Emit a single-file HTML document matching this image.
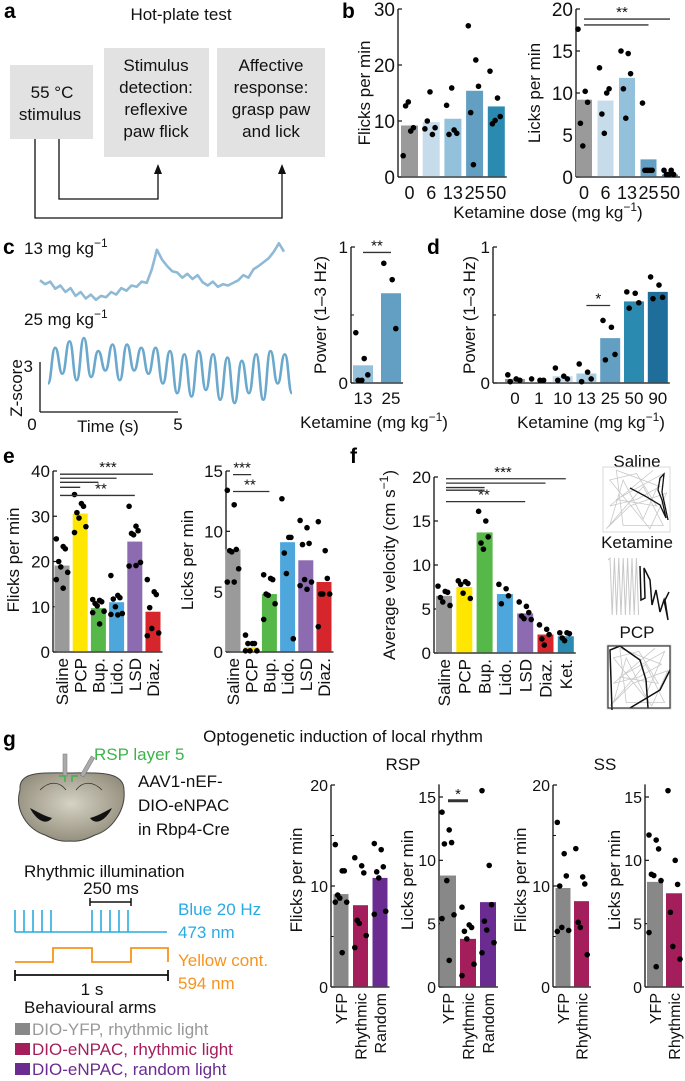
<!DOCTYPE html>
<html><head><meta charset="utf-8">
<style>
html,body{margin:0;padding:0;background:#fff;}
svg{display:block;font-family:"Liberation Sans",Arial,sans-serif;}
.t{font-size:17px;fill:#111;}
.pl{font-size:21px;font-weight:bold;fill:#000;}
</style></head>
<body>
<svg id="fig" width="685" height="1081" viewBox="0 0 685 1081" xmlns="http://www.w3.org/2000/svg">
<rect width="685" height="1081" fill="#fff"/>
<g>
<text class="pl" x="4" y="18">a</text>
<text class="t" x="181" y="20" text-anchor="middle" font-size="18">Hot-plate test</text>
<rect x="10" y="65" width="83" height="74" fill="#e2e2e2"/>
<text class="t" x="52" y="98" text-anchor="middle">55 °C<tspan x="50" dy="22">stimulus</tspan></text>
<rect x="104" y="48" width="105" height="109" fill="#e2e2e2"/>
<text class="t" x="156" y="71" text-anchor="middle">Stimulus<tspan x="156" dy="22">detection:</tspan><tspan x="156" dy="22">reflexive</tspan><tspan x="156" dy="22">paw flick</tspan></text>
<rect x="217" y="48" width="108" height="109" fill="#e2e2e2"/>
<text class="t" x="271" y="71" text-anchor="middle">Affective<tspan x="271" dy="22">response:</tspan><tspan x="271" dy="22">grasp paw</tspan><tspan x="271" dy="22">and lick</tspan></text>
<polyline points="59,139 59,199 158,199 158,172" fill="none" stroke="#111" stroke-width="1.3"/>
<polygon points="158,164 154,174 162,174" fill="#111"/>
<polyline points="35,139 35,218 282,218 282,172" fill="none" stroke="#111" stroke-width="1.3"/>
<polygon points="282,164 278,174 286,174" fill="#111"/>
</g>
<text class="pl" x="342" y="18">b</text>
<text class="t" x="548" y="218" text-anchor="middle" font-size="18">Ketamine dose (mg kg<tspan dy="-7" font-size="12">−1</tspan><tspan dy="7">)</tspan></text>
<text class="t" transform="translate(370,93) rotate(-90)" text-anchor="middle" font-size="19">Flicks per min</text>
<text class="t" transform="translate(540,93) rotate(-90)" text-anchor="middle" font-size="19">Licks per min</text>
<text class="pl" x="3" y="254">c</text>
<text class="t" x="24" y="254" font-size="18">13 mg kg<tspan dy="-7" font-size="12">−1</tspan></text>
<text class="t" x="24" y="325" font-size="18">25 mg kg<tspan dy="-7" font-size="12">−1</tspan></text>
<text class="t" x="33" y="372" text-anchor="end">3</text>
<text class="t" transform="translate(22,388) rotate(-90)" text-anchor="middle">Z-score</text>
<line x1="40" y1="362" x2="40" y2="412" stroke="#111" stroke-width="1.3"/>
<line x1="40" y1="412" x2="178" y2="412" stroke="#111" stroke-width="1.3"/>
<text class="t" x="32" y="430" text-anchor="middle">0</text>
<text class="t" x="178" y="430" text-anchor="middle">5</text>
<text class="t" x="108" y="432" text-anchor="middle">Time (s)</text>
<text class="t" x="374" y="428" text-anchor="middle">Ketamine (mg kg<tspan dy="-7" font-size="12">−1</tspan><tspan dy="7">)</tspan></text>
<text class="t" transform="translate(326,315) rotate(-90)" text-anchor="middle">Power (1–3 Hz)</text>
<text class="pl" x="427" y="254">d</text>
<text class="t" x="591" y="428" text-anchor="middle">Ketamine (mg kg<tspan dy="-7" font-size="12">−1</tspan><tspan dy="7">)</tspan></text>
<text class="t" transform="translate(475,315) rotate(-90)" text-anchor="middle">Power (1–3 Hz)</text>
<text class="pl" x="3" y="463">e</text>
<text class="t" transform="translate(19,560) rotate(-90)" text-anchor="middle" font-size="18">Flicks per min</text>
<text class="t" transform="translate(193,560) rotate(-90)" text-anchor="middle" font-size="18">Licks per min</text>
<text class="pl" x="350" y="463">f</text>
<text class="t" transform="translate(395,565) rotate(-90)" text-anchor="middle" font-size="18">Average velocity (cm s<tspan dy="-7" font-size="12">−1</tspan><tspan dy="7">)</tspan></text>
<text class="t" x="637" y="467" text-anchor="middle">Saline</text>
<text class="t" x="637" y="548" text-anchor="middle">Ketamine</text>
<text class="t" x="637" y="638" text-anchor="middle">PCP</text>
<g id="traj"></g>
<text class="pl" x="3" y="746">g</text>
<text class="t" x="343" y="742" text-anchor="middle">Optogenetic induction of local rhythm</text>
<text class="t" x="403" y="770" text-anchor="middle">RSP</text>
<text class="t" x="605" y="770" text-anchor="middle">SS</text>
<g>
<defs><radialGradient id="bg" cx="50%" cy="45%" r="60%"><stop offset="0" stop-color="#d6d2c4"/><stop offset="1" stop-color="#8f8a78"/></radialGradient></defs>
<path d="M20,790 C18,770 45,773 70,773 C95,773 124,770 124,790 C126,810 112,830 95,835 C85,840 78,842 70,841 C62,842 55,840 45,835 C28,830 14,810 20,790 Z" fill="url(#bg)" stroke="#444" stroke-width="1"/>
<path d="M30,808 C36,820 46,826 52,818 C44,816 38,812 30,808Z" fill="#111"/>
<path d="M112,808 C106,820 96,826 90,818 C98,816 104,812 112,808Z" fill="#111"/>
<path d="M40,790 C50,780 60,782 66,790 M102,790 C92,780 82,782 76,790" fill="none" stroke="#333" stroke-width="0.8"/>
<rect x="63" y="754" width="4" height="22" fill="#aaa" stroke="#777" stroke-width="0.5"/>
<rect x="80" y="754" width="4" height="22" fill="#aaa" stroke="#777" stroke-width="0.5" transform="rotate(30 82 776)"/>
<path d="M59,776 L65,776 L65,782 M78,776 L72,776 L72,782" fill="none" stroke="#3cb44b" stroke-width="1.5"/>
</g>
<text class="t" x="94" y="760" style="fill:#3cb44b">RSP layer 5</text>
<text class="t" x="138" y="787">AAV1-nEF-<tspan x="138" dy="24">DIO-eNPAC</tspan><tspan x="138" dy="24">in Rbp4-Cre</tspan></text>
<text class="t" x="24" y="877">Rhythmic illumination</text>
<text class="t" x="111" y="894" text-anchor="middle">250 ms</text>
<path d="M90,902 H131 M90,898 V906 M131,898 V906" stroke="#111" stroke-width="1.5" fill="none"/>
<path id="bluepulse" d="" stroke="#29abe2" stroke-width="1.6" fill="none"/>
<text class="t" x="178" y="915" style="fill:#29abe2">Blue 20 Hz<tspan x="178" dy="23">473 nm</tspan></text>
<path d="M15,962 H53 V948 H92 V962 H131 V948 H168 V962" stroke="#f7941d" stroke-width="1.8" fill="none"/>
<text class="t" x="178" y="966" style="fill:#f7941d">Yellow cont.<tspan x="178" dy="23">594 nm</tspan></text>
<path d="M15,975 H168 M15,970 V981 M168,970 V981" stroke="#111" stroke-width="1.8" fill="none"/>
<text class="t" x="92" y="995" text-anchor="middle">1 s</text>
<text class="t" x="24" y="1013">Behavioural arms</text>
<rect x="15" y="1023" width="15" height="12" fill="#888"/>
<text class="t" x="32" y="1035" style="fill:#999">DIO-YFP, rhythmic light</text>
<rect x="15" y="1043" width="15" height="12" fill="#a51e5c"/>
<text class="t" x="32" y="1055" style="fill:#a51e5c">DIO-eNPAC, rhythmic light</text>
<rect x="15" y="1063" width="15" height="12" fill="#6a2c91"/>
<text class="t" x="32" y="1075" style="fill:#6a2c91">DIO-eNPAC, random light</text>
<text class="t" transform="translate(302,880) rotate(-90)" text-anchor="middle">Flicks per min</text>
<text class="t" transform="translate(413,880) rotate(-90)" text-anchor="middle">Licks per min</text>
<text class="t" transform="translate(526,880) rotate(-90)" text-anchor="middle">Flicks per min</text>
<text class="t" transform="translate(620,880) rotate(-90)" text-anchor="middle">Licks per min</text>
<g id="charts"></g>
</svg>
<script>
const bDoses = ["0","6","13","25","50"];
const bFlickMeans = [9.2, 9.8, 10.4, 15.4, 12.6];
const bFlickDots = [[3.8,8.2,8.8,12.7,13.4],[8.6,7.6,8.8,10,15.2],[12.8,8.4,7.8,7.6,15.9],[27,20.9,16.2,11.5,2.2],[18.9,14.1,10.8,9.5,10.1]];
const bFlickTicks = [0,10,20,30];
const bLickMeans = [9.2, 9.1, 11.8, 2.1, 0.3];
const bLickDots = [[17.6,10.2,8.9,6.4,3.7],[13,10,10.5,7.5,5.2],[15,14.7,12.3,10.5,7],[8.8,0.8,0.8,0.8,0.8],[0.8,0.8,0.3,0.3,0.3]];
const bLickTicks = [0,5,10,15,20];
const trace13 = [0.38,0.32,0.36,0.25,0.3,0.2,0.26,0.14,0.2,0.1,0.16,0.08,0.14,0.12,0.2,0.16,0.26,0.22,0.3,0.28,0.36,0.34,0.55,0.85,0.7,0.6,0.52,0.5,0.42,0.48,0.4,0.46,0.35,0.3,0.36,0.28,0.32,0.3,0.34,0.38,0.46,0.42,0.55,0.6,0.66,0.72,0.82,0.95,0.82];
const trace25 = [0.3,0.85,0.45,0.95,0.35,1.0,0.4,0.8,0.5,0.9,0.35,0.9,0.5,0.85,0.45,0.85,0.3,0.8,0.15,0.75,0.1,0.8,0.2,0.75,0.05,0.7,0.0,0.65,0.15,0.75,0.05,0.8,0.3,0.75,0.15];
const cDoses = ["13","25"];
const cMeans = [0.13, 0.66];
const cDots = [[0.37,0.18,0.06,0.02,0.02],[0.88,0.76,0.40]];
const dDoses = ["0","1","10","13","25","50","90"];
const dMeans = [0.03,0.01,0.05,0.07,0.33,0.60,0.67];
const dDots = [[0.06,0.03,0.02,0.01],[0.03,0.02,0.02],[0.11,0.05,0.03,0.02],[0.14,0.08,0.03,0.01],[0.46,0.41,0.21,0.17],[0.67,0.66,0.59,0.55],[0.78,0.72,0.63,0.62]];
const powerTicks = [0,1];
const eDrugs = ["Saline","PCP","Bup.","Lido.","LSD","Diaz."];
const eFlickMeans = [19.1,30.6,9.7,11,24.4,8.9];
const eFlickDots = [[25,23.3,22.8,20,18.8,17.6,16,14.1],[34.8,32.8,32.2,30.8,29.6,27.7,26.4],[11.6,11.4,11.1,10.7,10.2,9,8.7,6.2],[16.9,12.5,12,11.7,10,8.5,8.3,8.2],[32.2,27.8,26.8,26.2,25.9,19.8,19,19.1],[16,13.3,12.7,9.8,5.2,4.2,3.6]];
const eFlickTicks = [0,10,20,30,40];
const eLickMeans = [8.5,0.4,4.8,9.1,7.6,5.8];
const eLickDots = [[13.4,12.2,8.5,8.4,8.3,6.9,5.8,5.8],[1.4,0.7,0.7,0.7,0.1,0.1,0.1],[6.4,6.1,6.0,4.8,4.7,4.0,2.7],[12.7,9.5,9.5,8.2,6.5,1.1],[10.9,10.3,9.0,8.9,6.0,5.8,5.5,5.2],[10.8,8.4,6.1,4.8,4.8,4.8,2.1]];
const eLickTicks = [0,5,10,15];
const fDrugs = ["Saline","PCP","Bup.","Lido.","LSD","Diaz.","Ket."];
const fMeans = [6.5,7.5,13.7,6.7,4.5,2.1,1.9];
const fDots = [[7.6,7.0,6.9,6.3,5.8,5.4],[8.2,8.1,7.9,7.8,6.8,6.2],[16.1,15.0,13.2,12.5,11.8],[7.8,7.3,6.5,5.6],[5.8,5.3,4.6,4.2,3.9,3.8],[3.2,2.7,2.1,1.6,0.9],[2.3,2.3,2.2,1.7,1.4]];
const fTicks = [0,5,10,15,20];
const gGroups = ["YFP","Rhythmic","Random"];
const g1Means = [9.2,8.1,10.8];
const g1Dots = [[14.1,11.5,11.5,9.1,8.8,8.4,8.4,3.4],[12.8,12.0,11.3,6.6,6.3,5.1,3.9],[14.2,13.6,11.9,11.4,10.8,7.5,7.2]];
const g2Means = [8.8,3.8,6.7];
const g2Dots = [[13.8,12.4,11.4,11.3,8.4,5.7,5.4,2.1],[6.3,4.9,4.7,4.4,3.8,1.8,0.9],[15.5,9.6,6.5,5.2,4.5,3.5,2.7]];
const g3Means = [9.8,8.5];
const g3Dots = [[16.3,13.2,11.0,10.0,5.9,5.6,5.5],[13.7,10.9,10.2,6.4,5.9,3.2]];
const g4Means = [8.3,7.4];
const g4Dots = [[12,11.6,10.9,8.9,8.8,8.4,4.3,1.6],[15.5,10,8.1,5.9,3.2,2.2]];
const gFlickTicks = [0,10,20];
const gLickTicks = [0,5,10,15];

const NS="http://www.w3.org/2000/svg";
const root=document.getElementById('charts');
function mk(tag,attrs,parent){const e=document.createElementNS(NS,tag);for(const k in attrs)e.setAttribute(k,attrs[k]);(parent||root).appendChild(e);return e;}

function chart(o){
  const g=mk('g',{});
  
  
  const yS=v=>o.y0-v/o.vmax*(o.y0-o.ytop);
  const xS=i=>o.ax+o.first+i*o.step;
  const n=o.means.length;
  const top=o.axisTop!==undefined?o.axisTop:o.vmax;
  const ax=mk('line',{x1:o.ax,y1:yS(top),x2:o.ax,y2:o.y0,stroke:'#111','stroke-width':1.3},g);
  
  
  const bx=mk('line',{x1:o.ax,y1:o.y0,x2:xS(n-1)+o.bw/2+2,y2:o.y0,stroke:'#111','stroke-width':1.3},g);
  
  
  (o.minor||[]).forEach(v=>{const m=mk('line',{x1:o.ax,x2:o.ax+3,y1:yS(v),y2:yS(v),stroke:'#111','stroke-width':1},g);
    
    });
  o.ticks.forEach(v=>{
    const tm=mk('line',{x1:o.ax,x2:o.ax+4,y1:yS(v),y2:yS(v),stroke:'#111','stroke-width':1.2},g);
    
    
    const t=mk('text',{x:o.ax-3,y:yS(v)+o.fs*0.36,'text-anchor':'end','font-size':o.fs,fill:'#111'},g);
    t.textContent=v;
    
    
  });
  o.means.forEach((v,i)=>{
    const r=mk('rect',{x:xS(i)-o.bw/2,y:yS(v),width:o.bw,height:o.y0-yS(v)-0.7,fill:o.colors[i]},g);
    
    
    o.dots[i].forEach((d,j)=>{
      const off=((j%3)-1)*o.bw*0.3+(j%2?1:-1)*1.2;
      const c=mk('circle',{cx:xS(i)+off,cy:yS(d),r:2.8,fill:'#000'},g);
      
      
    });
    const lx=xS(i);
    let t;
    if(o.rot){
      t=mk('text',{transform:`translate(${lx+o.fs*0.36},${o.y0+6}) rotate(-90)`,'text-anchor':'end','font-size':o.fs,fill:'#111'},g);
    } else {
      t=mk('text',{x:lx,y:o.y0+(o.xfs||o.fs)+4,'text-anchor':'middle','font-size':o.xfs||o.fs,fill:'#111'},g);
    }
    t.textContent=o.cats[i];
    
    
  });
  (o.sig||[]).forEach(s=>{
    const y=yS(s.v);
    const l=mk('line',{x1:xS(s.from)+(s.dx||0),x2:xS(s.to),y1:y,y2:y,stroke:'#333','stroke-width':s.w||1.3},g);
    
    
    if(s.label){const t=mk('text',{x:(s.lx!==undefined?s.lx:(xS(s.from)+xS(s.to))/2),y:y-2,'text-anchor':'middle','font-size':15,fill:'#111'},g);
      t.textContent=s.label;
      
      }
  });
  return g;
}
const bCol=['#9a9a9a','#c6dceb','#93c0da','#629fc3','#2b8ab0'];
chart({name:'b-flicks-chart',ax:398,y0:177,ytop:9,vmax:30,first:11.5,step:21.7,bw:17,means:bFlickMeans,dots:bFlickDots,cats:bDoses,colors:bCol,ticks:bFlickTicks,fs:19,xfs:18});
chart({name:'b-licks-chart',ax:576,y0:177,ytop:9,vmax:20,first:8,step:21.5,bw:16,means:bLickMeans,dots:bLickDots,cats:bDoses,colors:bCol,ticks:bLickTicks,fs:19,xfs:18,
  sig:[{v:18.8,from:0,to:4,label:'**',lx:622},{v:18.1,from:0,to:3}]});
chart({name:'c-power-chart',ax:351,y0:383,ytop:247,vmax:1,first:12,step:28,bw:20,means:cMeans,dots:cDots,cats:cDoses,colors:['#93c0da','#629fc3'],ticks:powerTicks,minor:[0.5],fs:17,
  sig:[{v:0.96,from:0,to:1,label:'**'}]});
chart({name:'d-power-chart',ax:493,y0:383,ytop:247,vmax:1,first:22,step:23.8,bw:20,means:dMeans,dots:dDots,cats:dDoses,colors:['#9a9a9a','#dcebf4','#c6dceb','#a8cde2','#629fc3','#2b8ab0','#1f6d9a'],ticks:powerTicks,minor:[0.5],fs:17,
  sig:[{v:0.57,from:3,to:4,label:'*'}]});
const eCol=['#9a9a9a','#ffe600','#55b848','#4da6dc','#8c6bb1','#d7262b'];
chart({name:'e-flicks-chart',ax:53,y0:652,ytop:471,vmax:40,first:9,step:18.2,bw:15,means:eFlickMeans,dots:eFlickDots,cats:eDrugs,colors:eCol,ticks:eFlickTicks,fs:17,rot:true,
  sig:[{v:39.3,from:0,to:5,dx:-2,label:'***',lx:108},{v:38.4,from:0,to:3,dx:-2},{v:37.5,from:0,to:2,dx:-2},{v:36.4,from:0,to:1,dx:-2},{v:34.6,from:0,to:4,dx:-2,label:'**',lx:101}]});
chart({name:'e-licks-chart',ax:226,y0:652,ytop:471,vmax:15,first:7,step:18.2,bw:15,means:eLickMeans,dots:eLickDots,cats:eDrugs,colors:eCol,ticks:eLickTicks,fs:17,rot:true,
  sig:[{v:14.7,from:0,to:1,label:'***'},{v:13.3,from:0,to:2,label:'**',lx:250}]});
chart({name:'f-velocity-chart',ax:434,y0:653,ytop:477,vmax:20,first:10,step:20.3,bw:16,means:fMeans,dots:fDots,cats:fDrugs,colors:['#9a9a9a','#ffe600','#55b848','#4da6dc','#8c6bb1','#d7262b','#2b8ab0'],ticks:fTicks,fs:17,rot:true,
  sig:[{v:19.8,from:0,to:6,dx:2,label:'***',lx:503},{v:19.3,from:0,to:5,dx:2},{v:18.8,from:0,to:2,dx:2},{v:18.5,from:0,to:2,dx:2},{v:17.2,from:0,to:4,dx:2,label:'**',lx:484}]});
const gCol=['#888888','#a51e5c','#6a2c91'];
chart({name:'g-rsp-flicks-chart',ax:331,y0:987,ytop:785,vmax:20,first:10,step:19.5,bw:15,means:g1Means,dots:g1Dots,cats:gGroups,colors:gCol,ticks:gFlickTicks,minor:[5,15],fs:16,rot:true});
chart({name:'g-rsp-licks-chart',ax:439,y0:987,ytop:797,vmax:15,axisTop:16,first:9,step:20,bw:16,means:g2Means,dots:g2Dots,cats:gGroups,colors:gCol,ticks:gLickTicks,fs:16,rot:true,
  sig:[{v:14.7,from:0,to:1,label:'*',w:3}]});
chart({name:'g-ss-flicks-chart',ax:553,y0:987,ytop:785,vmax:20,first:10,step:18.5,bw:15,means:g3Means,dots:g3Dots,cats:gGroups.slice(0,2),colors:gCol,ticks:gFlickTicks,minor:[5,15],fs:16,rot:true});
chart({name:'g-ss-licks-chart',ax:645,y0:987,ytop:797,vmax:15,axisTop:16,first:10,step:19,bw:16,means:g4Means,dots:g4Dots,cats:gGroups.slice(0,2),colors:gCol,ticks:gLickTicks,fs:16,rot:true});

function trace(vals,x0,x1,yTop,yBot,name,smooth){
  const xs=i=>x0+i*(x1-x0)/(vals.length-1);
  const ys=v=>yBot-v*(yBot-yTop);
  let d='M'+xs(0)+','+ys(vals[0]);
  for(let i=1;i<vals.length;i++){
    if(smooth){const xm=(xs(i-1)+xs(i))/2;d+=` C${xm},${ys(vals[i-1])} ${xm},${ys(vals[i])} ${xs(i)},${ys(vals[i])}`;}
    else d+=' L'+xs(i)+','+ys(vals[i]);
  }
  const p=mk('path',{d:d,fill:'none',stroke:smooth?'#6aa8cc':'#8fbad6','stroke-width':2.6,'stroke-linejoin':'round'});
  
  
}
trace(trace13,40,284,240,305,'trace-13mg',false);
trace(trace25,48,292,338,403,'trace-25mg',true);

(function(){
  let d='M15,932 H167';
  [15,24,33,42,51,92,101,110,119,128].forEach(x=>{d+=` M${x},932 V910`;});
  document.getElementById('bluepulse').setAttribute('d',d);
})();

(function(){
  const tg=document.getElementById('traj');
  function box(x,y,w,h,name){
    const g=mk('g',{},tg);
    
    
    const pts=[[0.1,0.9],[0.3,0.2],[0.6,0.8],[0.9,0.1],[0.2,0.5],[0.8,0.6],[0.5,0.1],[0.1,0.2],[0.7,0.95],[0.95,0.4],[0.4,0.6],[0.05,0.95],[0.6,0.3],[0.9,0.9],[0.3,0.9],[0.2,0.05],[0.85,0.3],[0.5,0.5],[0.1,0.6],[0.75,0.05]];
    let d='M'+(x+pts[0][0]*w)+','+(y+pts[0][1]*h);
    pts.forEach(p=>{d+=' L'+(x+p[0]*w)+','+(y+p[1]*h);});
    mk('path',{d:d,fill:'none',stroke:'#c8c8c8','stroke-width':0.8},g);
    mk('rect',{x:x,y:y,width:w,height:h,fill:'none',stroke:'#d0d0d0','stroke-width':0.8},g);
    return g;
  }
  const s=box(603,467,67,65,'saline-trajectory');
  mk('path',{d:'M630,488 L645,496 L660,505 L666,518 L662,500 L658,490 L660,478 L664,474 L662,492 L668,520',fill:'none',stroke:'#111','stroke-width':1.3},s);
  const k=mk('g',{},tg);
  
  
  let d='M608,560';
  for(let i=0;i<14;i++){d+=` L${610+i*2.2},${i%2?615:558}`;}
  mk('path',{d:d,fill:'none',stroke:'#c8c8c8','stroke-width':1},k);
  mk('path',{d:'M640,566 L641,600 L645,598 L644,568 L650,580 L652,605 L656,590 L660,612 L664,600 L668,620 L665,600 L669,592',fill:'none',stroke:'#111','stroke-width':1.5},k);
  const p=box(607,645,64,64,'pcp-trajectory');
  mk('path',{d:'M612,710 L610,650 L620,646 L640,660 L646,680 L648,708 M630,708 L660,690 L670,670',fill:'none',stroke:'#111','stroke-width':1.5},p);
  mk('rect',{x:608,y:646,width:62,height:62,fill:'none',stroke:'#333','stroke-width':1.2},p);
})();
</script>
</body></html>
